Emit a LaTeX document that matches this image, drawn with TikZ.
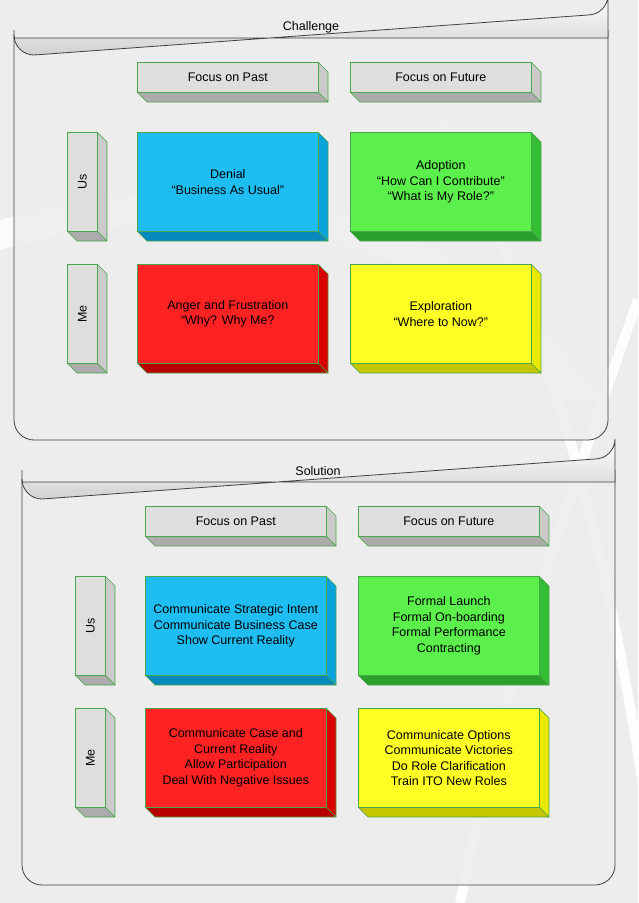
\documentclass[tikz,border=0pt]{standalone}
\usepackage{fontspec}
\setmainfont{Liberation Sans}
\usetikzlibrary{calc}
\definecolor{bg}{HTML}{EDEDED}
\definecolor{edg}{HTML}{4CA64C}
\definecolor{bluef}{HTML}{1EBDF2}\definecolor{blues}{HTML}{08A2DC}
\definecolor{greenf}{HTML}{5CF04C}\definecolor{greens}{HTML}{34BC34}
\definecolor{redf}{HTML}{FF2222}\definecolor{reds}{HTML}{D80000}
\definecolor{yelf}{HTML}{FFFF26}\definecolor{yels}{HTML}{E8E800}
\definecolor{grayf}{HTML}{DEDEDE}\definecolor{grays}{HTML}{CACACA}
\tikzset{
 face/.style={draw=edg,line width=0.6pt,inner sep=0pt,anchor=north west},
 lbl/.style={align=center,font=\fontsize{12.5}{15.5}\selectfont},
 sidef/.style={draw=edg,line width=0.6pt,line join=round},
 panel/.style={draw=black!75,line width=0.8pt},
}
% #1 name #2 x #3 y #4 w #5 h #6 front #7 side #8 text #9 rotate
\newcommand{\bx}[9]{%
 \fill[#7,sidef] (#2+#4,#3) -- (#2+#4+10,#3+10) -- (#2+#4+10,#3+#5+10) -- (#2+#4,#3+#5) -- cycle;
 \fill[#7!85!black,sidef] (#2,#3+#5) -- (#2+#4,#3+#5) -- (#2+#4+10,#3+#5+10) -- (#2+10,#3+#5+10) -- cycle;
 \node[face,fill=#6,minimum width=#4pt,minimum height=#5pt] (#1) at (#2,#3) {};
 \node[lbl,#9] (#1t) at (#1.center) {#8};
}
\begin{document}
\begin{tikzpicture}[x=1pt,y=-1pt]
\useasboundingbox (0,0) rectangle (638,903);
\fill[bg] (0,0) rectangle (638,903);
% swooshes
\fill[white,opacity=0.8] (0,250) .. controls (250,180) and (460,250) .. (560,400) -- (600,400) .. controls (470,210) and (250,150) .. (0,220) -- cycle;
\draw[white,line width=10pt,opacity=0.9] (440,120) .. controls (560,330) and (620,600) .. (660,903);
\draw[white,line width=10pt,opacity=0.9] (638,300) .. controls (560,520) and (500,700) .. (460,903);
% panel 1
\draw[panel,fill=bg,fill opacity=0.85,rounded corners=20pt] (14,30) -- (14,440) -- (608,440) -- (608,30);
\shade[top color=white,bottom color=black!18,draw=black!75,line width=0.8pt] (14,38) -- (14,35) arc[start angle=180,end angle=90,radius=20] -- (588,15) arc[start angle=90,end angle=0,radius=20] -- (608,38) -- cycle;
\node[lbl] (h1) at (311,27) {Challenge};
\bx{fp1}{137}{62}{181}{30}{grayf}{grays}{Focus on Past}{}
\bx{ff1}{350}{62}{181}{30}{grayf}{grays}{Focus on Future}{}
\bx{us1}{67}{132}{30}{99}{grayf}{grays}{Us}{rotate=90}
\bx{me1}{67}{264}{30}{99}{grayf}{grays}{Me}{rotate=90}
\bx{a1}{137}{132}{181}{99}{bluef}{blues}{Denial\\“Business As Usual”}{}
\bx{b1}{350}{132}{181}{99}{greenf}{greens}{Adoption\\“How Can I Contribute”\\“What is My Role?”}{}
\bx{c1}{137}{264}{181}{99}{redf}{reds}{Anger and Frustration\\“Why? Why Me?}{}
\bx{d1}{350}{264}{181}{99}{yelf}{yels}{Exploration\\“Where to Now?”}{}
% panel 2
\draw[panel,fill=bg,fill opacity=0.85,rounded corners=20pt] (22,470) -- (22,885) -- (615,885) -- (615,470);
\shade[top color=white,bottom color=black!18,draw=black!75,line width=0.8pt] (22,482) -- (22,479) arc[start angle=180,end angle=90,radius=20] -- (595,459) arc[start angle=90,end angle=0,radius=20] -- (615,482) -- cycle;
\node[lbl] (h2) at (318,471) {Solution};
\bx{fp2}{145}{506}{181}{30}{grayf}{grays}{Focus on Past}{}
\bx{ff2}{358}{506}{181}{30}{grayf}{grays}{Focus on Future}{}
\bx{us2}{75}{576}{30}{99}{grayf}{grays}{Us}{rotate=90}
\bx{me2}{75}{708}{30}{99}{grayf}{grays}{Me}{rotate=90}
\bx{a2}{145}{576}{181}{99}{bluef}{blues}{Communicate Strategic Intent\\Communicate Business Case\\Show Current Reality}{}
\bx{b2}{358}{576}{181}{99}{greenf}{greens}{Formal Launch\\Formal On-boarding\\Formal Performance\\Contracting}{}
\bx{c2}{145}{708}{181}{99}{redf}{reds}{Communicate Case and\\Current Reality\\Allow Participation\\Deal With Negative Issues}{}
\bx{d2}{358}{708}{181}{99}{yelf}{yels}{Communicate Options\\Communicate Victories\\Do Role Clarification\\Train ITO New Roles}{}
\end{tikzpicture}
\end{document}
